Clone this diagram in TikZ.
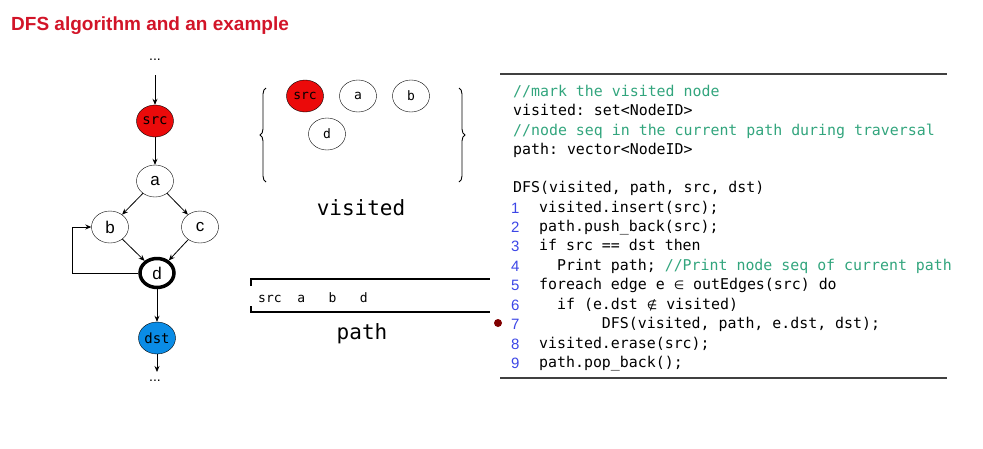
\documentclass[tikz,border=0pt]{standalone}
\usepackage{fontspec}
\setmainfont{Liberation Sans}
\setmonofont{DejaVu Sans Mono}
\newfontfamily\symf{DejaVu Sans}
\usetikzlibrary{arrows.meta,decorations.pathreplacing,shapes.geometric}
\definecolor{titred}{RGB}{210,20,40}
\definecolor{cmt}{RGB}{50,165,125}
\definecolor{lnum}{RGB}{60,70,230}
\definecolor{srcred}{RGB}{235,10,10}
\definecolor{dstblue}{RGB}{10,140,230}
\begin{document}
\begin{tikzpicture}[x=1pt,y=-1pt,
  gn/.style={draw,ellipse,minimum width=37pt,minimum height=32pt,inner sep=0pt,font=\fontsize{17}{17}\selectfont},
  vn/.style={gn,font=\ttfamily\fontsize{13}{13}\selectfont},
  arr/.style={-{Stealth[length=6pt,width=5pt]},line width=0.8pt},
  code/.style={anchor=base west,inner sep=0pt,font=\ttfamily\fontsize{14.9}{14.9}\selectfont},
  ln/.style={anchor=base west,inner sep=0pt,text=lnum,font=\fontsize{15}{15}\selectfont}]
\useasboundingbox (0,0) rectangle (983,448);
\node[anchor=base west,inner sep=0pt,text=titred,font=\bfseries\fontsize{19}{19}\selectfont] (title) at (11,30) {DFS algorithm and an example};
% graph
\node[font=\fontsize{14}{14}\selectfont] (top) at (155,60) {...};
\coordinate (tin) at (155,75);
\node[gn,fill=srcred,font=\ttfamily\fontsize{14}{14}\selectfont] (src) at (155,121) {src};
\node[gn] (a) at (155,181) {a};
\node[gn] (b) at (110,227) {b};
\node[gn] (c) at (200,227) {c};
\node[gn,line width=3.5pt,minimum width=34pt,minimum height=29pt] (d) at (157,273) {d};
\node[gn,fill=dstblue,font=\ttfamily\fontsize{14}{14}\selectfont] (dst) at (157,338) {dst};
\coordinate (bout) at (157,372);
\node[font=\fontsize{14}{14}\selectfont] (bot) at (155,381) {...};
\draw[arr] (tin) -- (src);
\draw[arr] (src) -- (a);
\draw[arr] (a) -- (b);
\draw[arr] (a) -- (c);
\draw[arr] (b) -- (d);
\draw[arr] (c) -- (d);
\draw[arr] (d) -- (dst);
\draw[arr] (dst) -- (bout);
\draw[arr] (d.west) -- (72,273) |- (b.west);
% visited
\draw[decorate,decoration={brace,amplitude=6pt},line width=0.9pt] (266,182) -- (266,88);
\draw[decorate,decoration={brace,amplitude=6pt},line width=0.9pt] (459,88) -- (459,182);
\node[vn,fill=srcred] (vsrc) at (305,96) {src};
\node[vn] (va) at (358,96) {a};
\node[vn] (vb) at (411,96) {b};
\node[vn] (vd) at (327,134) {d};
\node[font=\ttfamily\fontsize{21}{21}\selectfont] (vlab) at (361,208) {visited};
% path
\draw[line width=1.2pt] (251,286) -- (251,279) -- (490,279);
\draw[line width=1.2pt] (251,306) -- (251,312) -- (490,312);
\node[anchor=base west,inner sep=0pt,font=\ttfamily\fontsize{13}{13}\selectfont] (pseq) at (258,302) {src\ \ a\ \ \ b\ \ \ d};
\node[font=\ttfamily\fontsize{21}{21}\selectfont] (plab) at (362,334) {path};
% code
\draw[line width=1.3pt,black!75] (500,74) -- (947,74);
\draw[line width=1.3pt,black!75] (500,378) -- (947,378);
\node[code,text=cmt] (c1) at (513,96) {//mark the visited node};
\node[code] (c2) at (513,115) {visited: set<NodeID>};
\node[code,text=cmt] (c3) at (513,135) {//node seq in the current path during traversal};
\node[code] (c4) at (513,154) {path: vector<NodeID>};
\node[code] (c5) at (513,192) {DFS(visited, path, src, dst)};
\foreach \i/\y/\t in {1/212/{visited.insert(src);},2/231/{path.push\_back(src);},3/250/{if src == dst then},5/289/{foreach edge e {\symf\fontsize{12}{12}\selectfont∈} outEdges(src) do},6/309/{\ \ if (e.dst {\symf\fontsize{12}{12}\selectfont∉} visited)},7/328/{\ \ \ \ \ \ \ DFS(visited, path, e.dst, dst);},8/348/{visited.erase(src);},9/367/{path.pop\_back();}}{
  \node[ln] (n\i) at (511,\y+1) {\i};
  \node[code] (l\i) at (539,\y) {\t};
}
\node[ln] (n4) at (511,271) {4};
\node[code] (l4) at (539,270) {\ \ Print path; \textcolor{cmt}{//Print node seq of current path}};
\node[circle,fill=black!50!red,inner sep=0pt,minimum size=8pt] (dot) at (498,323) {};
\end{tikzpicture}
\end{document}
